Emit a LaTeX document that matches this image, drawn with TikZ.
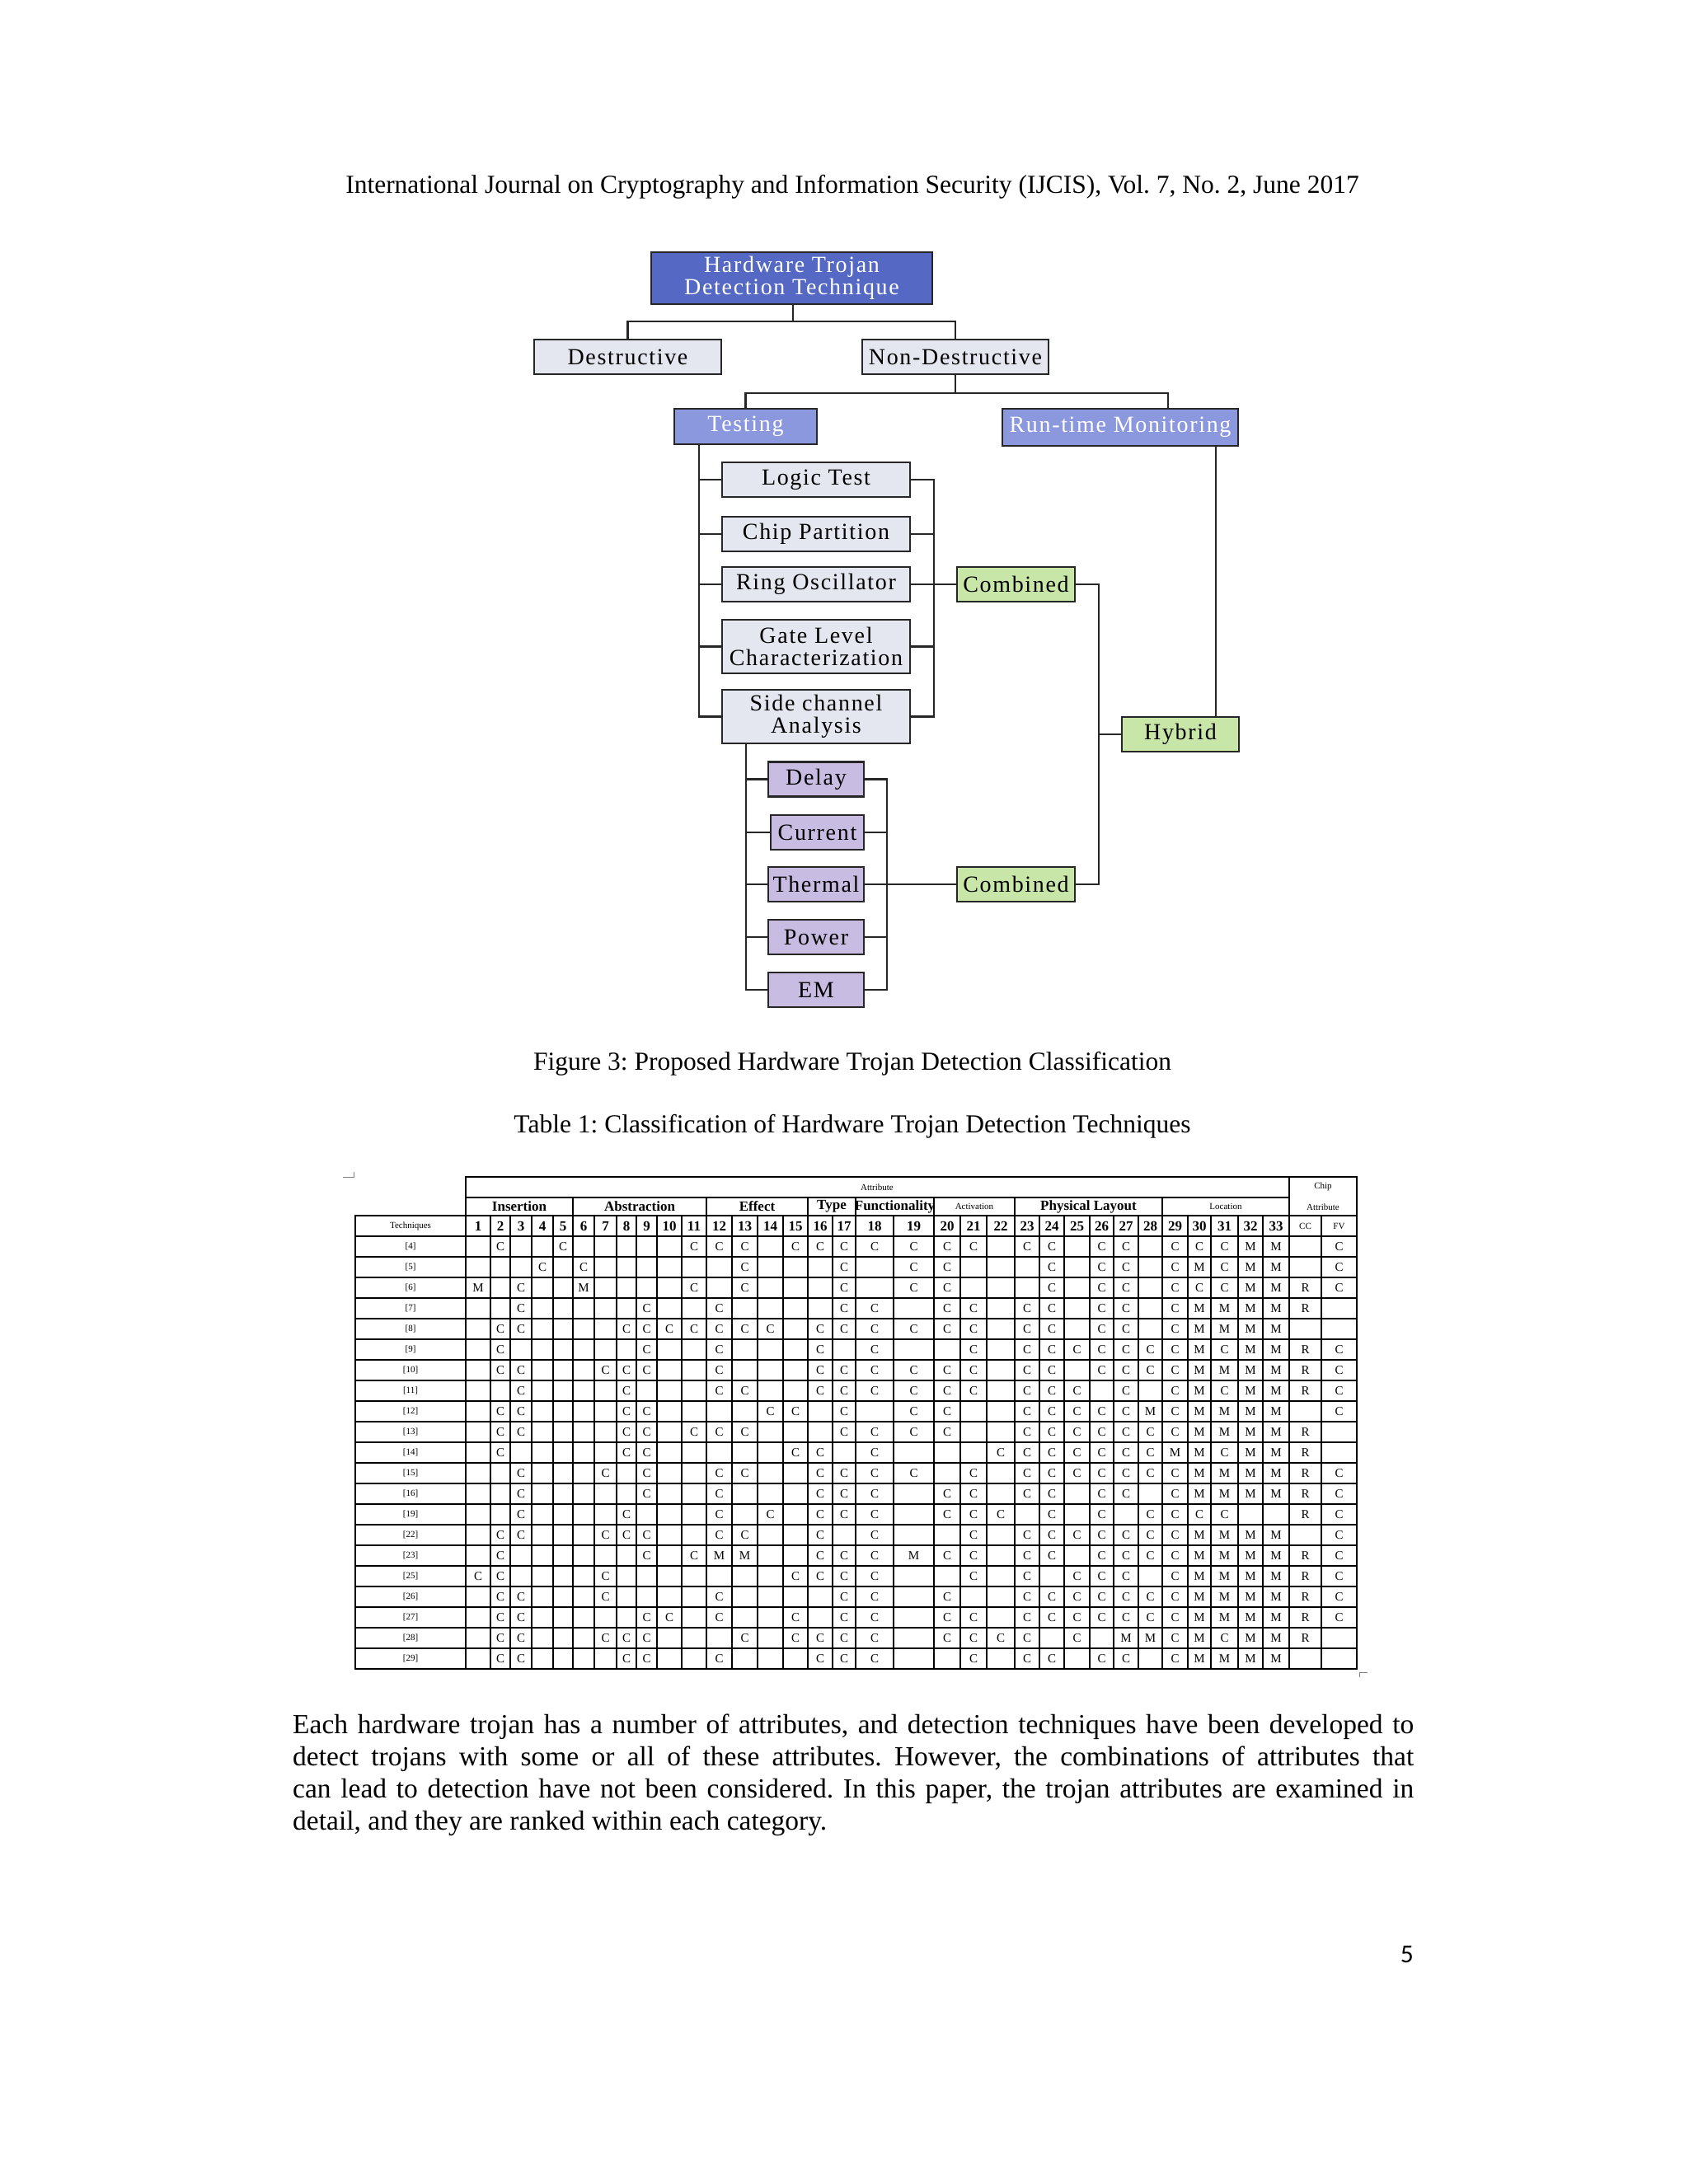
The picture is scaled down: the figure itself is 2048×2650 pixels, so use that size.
\documentclass[tikz,border=0pt]{standalone}
\usepackage{fontspec}
\setmainfont{Liberation Serif}
\newfontfamily\boxfont[LetterSpace=6]{Liberation Serif}
\newfontfamily\pagefont{Carlito}
\definecolor{rootblue}{RGB}{84,104,196}
\definecolor{midblue}{RGB}{140,152,222}
\definecolor{boxgrey}{RGB}{229,231,240}
\definecolor{boxgreen}{RGB}{200,230,168}
\definecolor{boxpurple}{RGB}{200,188,226}
\frenchspacing

\begin{document}
\begin{tikzpicture}[x=1pt,y=-1pt,
every node/.style={inner sep=0pt},
hbox/.style={draw=black!85,line width=2.6pt,font=\boxfont\fontsize{28}{27}\selectfont,align=center,minimum height=42pt},
dark/.style={hbox,fill=rootblue,text=white},
mid/.style={hbox,fill=midblue,text=white},
grey/.style={hbox,fill=boxgrey,minimum width=228pt},
combo/.style={hbox,fill=boxgreen,minimum width=143pt},
sub/.style={hbox,fill=boxpurple,minimum width=116pt},
line/.style={line width=2.2pt,black!85},
tbl/.style={line width=1.8pt,line cap=rect},
cell/.style={font=\fontsize{15}{15}\selectfont},
numh/.style={font=\bfseries\fontsize{17}{17}\selectfont},
grp/.style={font=\bfseries\fontsize{17}{17}\selectfont},
small/.style={font=\fontsize{11}{11}\selectfont},
txt/.style={font=\fontsize{31.5}{38.9}\selectfont,anchor=base},
body/.style={font=\fontsize{33.5}{38.9}\selectfont,anchor=base west}]
\fill[white] (0,0) rectangle (2048,2650);
\useasboundingbox (0,0) rectangle (2048,2650);

% running head
\node[txt] (head) at (1034,234) {International Journal on Cryptography and Information Security (IJCIS), Vol. 7, No. 2, June 2017};

% classification tree
\node[dark,minimum width=341pt,minimum height=63pt] (root) at (960.5,337.5) {Hardware Trojan\\Detection Technique};
\node[grey,minimum width=227pt] (destr) at (761.5,433) {Destructive};
\node[grey,minimum width=226pt] (nondestr) at (1159,433) {Non-Destructive};
\node[mid,minimum width=173pt,minimum height=43pt] (test) at (904.5,517.5) {Testing};
\node[mid,minimum width=286pt,minimum height=45pt] (rtm) at (1359,518.5) {Run-time Monitoring};
\node[grey] (logic) at (990,582) {Logic Test};
\node[grey] (chip) at (990,648) {Chip Partition};
\node[grey] (ring) at (990,709) {Ring Oscillator};
\node[grey,minimum height=65pt] (gate) at (990,784.5) {Gate Level\\Characterization};
\node[grey,minimum height=65pt] (side) at (990,869.5) {Side channel\\Analysis};
\node[combo] (comb1) at (1232.5,709) {Combined};
\node[combo,minimum width=142pt] (hyb) at (1432,891) {Hybrid};
\node[sub] (delay) at (990,945.5) {Delay};
\node[sub,minimum width=113pt] (curr) at (991.5,1010) {Current};
\node[sub] (therm) at (990,1073) {Thermal};
\node[sub] (power) at (990,1137) {Power};
\node[sub] (em) at (990,1201) {EM};
\node[combo] (comb2) at (1232.5,1073) {Combined};

\coordinate (j1) at (962,390);
\coordinate (j2) at (1159,477);
\coordinate (rt) at (1417,477);
\coordinate (tl) at (848,539);
\coordinate (tr) at (1133,709);
\coordinate (j3) at (1333,891);
\coordinate (rv) at (1475,540);
\coordinate (sl) at (905,902);
\coordinate (sr) at (1076,1073);
\draw[line] (root.south -| j1) -- (j1);
\draw[line] (destr.north) |- (j1) -| (nondestr.north);
\draw[line] (nondestr.south) -- (j2);
\draw[line] (test.north) |- (rt) -- (rt |- rtm.north);
\draw[line] (tl) |- (side.west);
\foreach \n in {logic,chip,ring,gate} \draw[line] (\n.west) -- (\n.west -| tl);
\draw[line] (logic.east) -| (tr) |- (side.east);
\foreach \n in {chip,gate} \draw[line] (\n.east) -- (\n.east -| tr);
\draw[line] (ring.east) -- (comb1.west);
\draw[line] (comb1.east) -| (j3) |- (comb2.east);
\draw[line] (j3) -- (hyb.west);
\draw[line] (rv) -- (rv |- hyb.north);
\draw[line] (sl) |- (em.west);
\foreach \n in {delay,curr,therm,power} \draw[line] (\n.west) -- (\n.west -| sl);
\draw[line] (delay.east) -| (sr) |- (em.east);
\foreach \n in {curr,power} \draw[line] (\n.east) -- (\n.east -| sr);
\draw[line] (therm.east) -- (comb2.west);

\node[txt] (figcap) at (1034,1298) {Figure 3: Proposed Hardware Trojan Detection Classification};
\node[txt] (tabcap) at (1034,1374) {Table 1: Classification of Hardware Trojan Detection Techniques};

% table grid
\foreach \xb in {595,619,645,671,721,748,772,797,827,888,919,950,1010,1084,1165,1197,1261,1291,1322,1351,1381,1441,1469,1502,1532,1603}
  \draw[tbl] (\xb,1475) -- (\xb,2025);
\foreach \xb in {695,857,980,1038,1133,1231,1410} \draw[tbl] (\xb,1453) -- (\xb,2025);
\foreach \xb in {565,1564,1646} \draw[tbl] (\xb,1428) -- (\xb,2025);
\draw[tbl] (431,1475) -- (431,2025);
\draw[tbl] (565,1428) -- (1646,1428);
\draw[tbl] (565,1453) -- (1564,1453);
\foreach \yb in {1475,1500,...,2025} \draw[tbl] (431,\yb) -- (1646,\yb);
\draw[black!50,line width=1pt] (416,1428) -- (429,1428) -- (429,1422);
\draw[black!50,line width=1pt] (1649,2035) -- (1649,2029) -- (1659,2029);

% column centres
\foreach \xa/\xb [count=\i] in {565/595,595/619,619/645,645/671,671/695,695/721,721/748,748/772,
  772/797,797/827,827/857,857/888,888/919,919/950,950/980,980/1010,1010/1038,1038/1084,1084/1133,
  1133/1165,1165/1197,1197/1231,1231/1261,1261/1291,1291/1322,1322/1351,1351/1381,1381/1410,
  1410/1441,1441/1469,1469/1502,1502/1532,1532/1564,1564/1603,1603/1646}
  \coordinate (c\i) at ({(\xa+\xb)/2},1487.5);

% table head
\node[small] (attr) at (1064,1440.5) {Attribute};
\node[small] (chipa) at (1605,1440) {Chip};
\node[small] (chipb) at (1605,1465) {Attribute};
\foreach \gx/\gname/\gsty in {630/Insertion/grp,776/Abstraction/grp,918.5/Effect/grp,1009/Type/grp,
  1085.5/Functionality/grp,1182/Activation/small,1320.5/Physical Layout/grp,1487/Location/small}
  \node[\gsty] (g\gx) at (\gx,1464) {\gname};
\node[small] (tech) at (498,1487.5) {Techniques};
\foreach \i in {1,...,33} \node[numh] (h\i) at (c\i) {\i};
\node[small] (h34) at (c34) {CC};
\node[small] (h35) at (c35) {FV};

% table body
\foreach \k/\rf/\cells in {
  1/4/{2/C,5/C,11/C,12/C,13/C,15/C,16/C,17/C,18/C,19/C,20/C,21/C,23/C,24/C,26/C,27/C,29/C,30/C,31/C,32/M,33/M,35/C},
  2/5/{4/C,6/C,13/C,17/C,19/C,20/C,24/C,26/C,27/C,29/C,30/M,31/C,32/M,33/M,35/C},
  3/6/{1/M,3/C,6/M,11/C,13/C,17/C,19/C,20/C,24/C,26/C,27/C,29/C,30/C,31/C,32/M,33/M,34/R,35/C},
  4/7/{3/C,9/C,12/C,17/C,18/C,20/C,21/C,23/C,24/C,26/C,27/C,29/C,30/M,31/M,32/M,33/M,34/R},
  5/8/{2/C,3/C,8/C,9/C,10/C,11/C,12/C,13/C,14/C,16/C,17/C,18/C,19/C,20/C,21/C,23/C,24/C,26/C,27/C,29/C,30/M,31/M,32/M,33/M},
  6/9/{2/C,9/C,12/C,16/C,18/C,21/C,23/C,24/C,25/C,26/C,27/C,28/C,29/C,30/M,31/C,32/M,33/M,34/R,35/C},
  7/10/{2/C,3/C,7/C,8/C,9/C,12/C,16/C,17/C,18/C,19/C,20/C,21/C,23/C,24/C,26/C,27/C,28/C,29/C,30/M,31/M,32/M,33/M,34/R,35/C},
  8/11/{3/C,8/C,12/C,13/C,16/C,17/C,18/C,19/C,20/C,21/C,23/C,24/C,25/C,27/C,29/C,30/M,31/C,32/M,33/M,34/R,35/C},
  9/12/{2/C,3/C,8/C,9/C,14/C,15/C,17/C,19/C,20/C,23/C,24/C,25/C,26/C,27/C,28/M,29/C,30/M,31/M,32/M,33/M,35/C},
  10/13/{2/C,3/C,8/C,9/C,11/C,12/C,13/C,17/C,18/C,19/C,20/C,23/C,24/C,25/C,26/C,27/C,28/C,29/C,30/M,31/M,32/M,33/M,34/R},
  11/14/{2/C,8/C,9/C,15/C,16/C,18/C,22/C,23/C,24/C,25/C,26/C,27/C,28/C,29/M,30/M,31/C,32/M,33/M,34/R},
  12/15/{3/C,7/C,9/C,12/C,13/C,16/C,17/C,18/C,19/C,21/C,23/C,24/C,25/C,26/C,27/C,28/C,29/C,30/M,31/M,32/M,33/M,34/R,35/C},
  13/16/{3/C,9/C,12/C,16/C,17/C,18/C,20/C,21/C,23/C,24/C,26/C,27/C,29/C,30/M,31/M,32/M,33/M,34/R,35/C},
  14/19/{3/C,8/C,12/C,14/C,16/C,17/C,18/C,20/C,21/C,22/C,24/C,26/C,28/C,29/C,30/C,31/C,34/R,35/C},
  15/22/{2/C,3/C,7/C,8/C,9/C,12/C,13/C,16/C,18/C,21/C,23/C,24/C,25/C,26/C,27/C,28/C,29/C,30/M,31/M,32/M,33/M,35/C},
  16/23/{2/C,9/C,11/C,12/M,13/M,16/C,17/C,18/C,19/M,20/C,21/C,23/C,24/C,26/C,27/C,28/C,29/C,30/M,31/M,32/M,33/M,34/R,35/C},
  17/25/{1/C,2/C,7/C,15/C,16/C,17/C,18/C,21/C,23/C,25/C,26/C,27/C,29/C,30/M,31/M,32/M,33/M,34/R,35/C},
  18/26/{2/C,3/C,7/C,12/C,17/C,18/C,20/C,23/C,24/C,25/C,26/C,27/C,28/C,29/C,30/M,31/M,32/M,33/M,34/R,35/C},
  19/27/{2/C,3/C,9/C,10/C,12/C,15/C,17/C,18/C,20/C,21/C,23/C,24/C,25/C,26/C,27/C,28/C,29/C,30/M,31/M,32/M,33/M,34/R,35/C},
  20/28/{2/C,3/C,7/C,8/C,9/C,13/C,15/C,16/C,17/C,18/C,20/C,21/C,22/C,23/C,25/C,27/M,28/M,29/C,30/M,31/C,32/M,33/M,34/R},
  21/29/{2/C,3/C,8/C,9/C,12/C,16/C,17/C,18/C,21/C,23/C,24/C,26/C,27/C,29/C,30/M,31/M,32/M,33/M}}
{
  \node[small] (ref\k) at (498,{1487.5+25*\k}) {[\rf]};
  \foreach \col/\val in \cells \node[cell] (d\k-\col) at (c\col |- ref\k) {\val};
}

% body text
\node[body] (par1) at (355,2103) {\makebox[1360pt][s]{Each hardware trojan has a number of attributes, and detection techniques have been developed to}};
\node[body] (par2) at (355,2142) {\makebox[1360pt][s]{detect trojans with some or all of these attributes. However, the combinations of attributes that}};
\node[body] (par3) at (355,2181) {\makebox[1360pt][s]{can lead to detection have not been considered. In this paper, the trojan attributes are examined in}};
\node[body] (par4) at (355,2220) {detail, and they are ranked within each category.};
\node[txt,anchor=base east,font=\pagefont\fontsize{31.5}{38}\selectfont] (pnum) at (1715,2381) {5};
\end{tikzpicture}
\end{document}
